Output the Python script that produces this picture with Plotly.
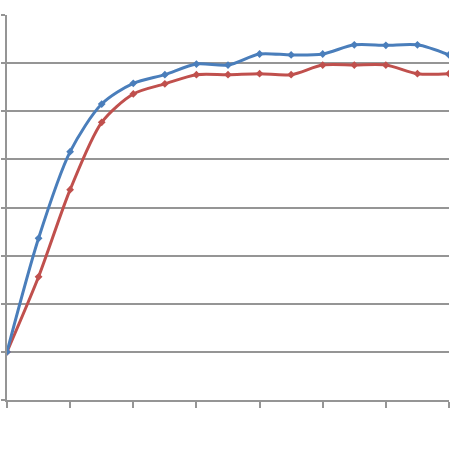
import plotly.graph_objects as go

# values (gridline units)
steps = list(range(15))
blue_vals = [1.0, 3.36, 5.16, 6.15, 6.58, 6.76, 6.98, 6.96, 7.19, 7.17, 7.19, 7.38, 7.37, 7.38, 7.17]
red_vals = [1.0, 2.56, 4.37, 5.77, 6.36, 6.57, 6.76, 6.76, 6.78, 6.76, 6.96, 6.96, 6.96, 6.78, 6.78]

fig = go.Figure()
fig.add_trace(go.Scatter(x=steps, y=red_vals, mode='lines+markers',
                         line=dict(color='#C0504D', width=3, shape='spline', smoothing=0.8),
                         marker=dict(symbol='diamond', size=6, color='#C0504D')))
fig.add_trace(go.Scatter(x=steps, y=blue_vals, mode='lines+markers',
                         line=dict(color='#4A7EBB', width=3, shape='spline', smoothing=0.8),
                         marker=dict(symbol='diamond', size=6, color='#4A7EBB')))

fig.update_layout(
    width=474, height=474,
    margin=dict(l=7, r=25, t=15, b=74),
    paper_bgcolor='white', plot_bgcolor='white',
    showlegend=False,
    xaxis=dict(range=[0, 14], tickvals=list(range(0, 15, 2)), showticklabels=False,
               ticks='outside', ticklen=6, tickcolor='#959595', tickwidth=1.5,
               showline=True, linecolor='#959595', linewidth=1.5,
               showgrid=False, zeroline=False, automargin=False),
    yaxis=dict(range=[0, 8], dtick=1, showticklabels=False,
               ticks='outside', ticklen=4, tickcolor='#959595', tickwidth=1.5,
               showline=True, linecolor='#959595', linewidth=1.5,
               showgrid=True, gridcolor='#959595', gridwidth=1.5, zeroline=False,
               automargin=False),
)

# page has a default 8px body margin, drop it so the chart sits at the corner
fig.write_html("out.html", config={'displayModeBar': False},
               post_script="document.body.style.margin='0';")
